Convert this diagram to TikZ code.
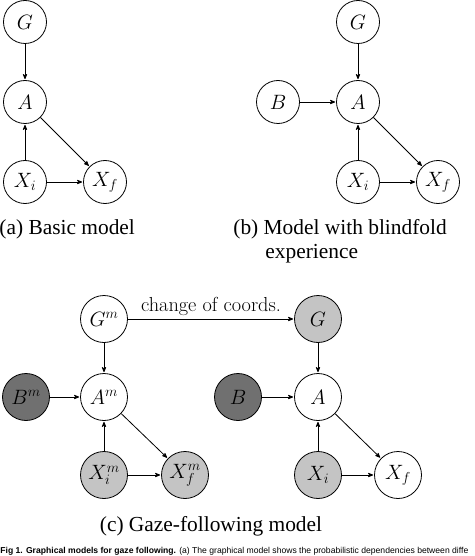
\documentclass[tikz,border=0pt]{standalone}
\usepackage{fontspec}
\newfontfamily\capfont{Liberation Serif}
\newfontfamily\notefont{Liberation Sans}
\usetikzlibrary{arrows,positioning}
\definecolor{lightgrey}{gray}{0.77}
\definecolor{darkgrey}{gray}{0.44}

\begin{document}
\begin{tikzpicture}[x=1pt, y=-1pt, var/.style={draw,circle,minimum size=43pt,inner sep=0pt}, obs/.style={fill=lightgrey}, hid/.style={fill=darkgrey}, >=stealth', shorten >=1pt, node distance=80pt, on grid, auto, line width=0.8pt, every node/.style={font=\fontsize{20.74}{24}\selectfont}, capt/.style={font=\capfont\fontsize{21.4}{24.5}\selectfont, inner sep=0pt, anchor=base west}]
  \useasboundingbox (0,0) rectangle (474,556);

  % States for the basic model
  \node[var] (Ga) at (25,22) {$G$};
  \node[var] (Aa) [below=of Ga] {$A$};
  \node[var] (Xia) [below=of Aa] {$X_i$};
  \node[var] (Xfa) [right=of Xia] {$X_f$};

  % Arrows for the basic model
  \path[->]
    (Ga) edge (Aa)
    (Xia) edge (Aa)
    (Aa) edge (Xfa)
    (Xia) edge (Xfa);
  \node[capt] (capa) at (-1,234) {(a) Basic model};

  % States for the blindfold model
  \node[var] (Gb) at (358,22) {$G$};
  \node[var] (Ab) [below=of Gb] {$A$};
  \node[var] (Bb) [left=of Ab] {$B$};
  \node[var] (Xib) [below=of Ab] {$X_i$};
  \node[var] (Xfb) [right=of Xib] {$X_f$};

  % Arrows for the blindfold model
  \path[->]
    (Gb) edge (Ab)
    (Bb) edge (Ab)
    (Xib) edge (Ab)
    (Ab) edge (Xfb)
    (Xib) edge (Xfb);
  \node[capt] (capb) at (233,234) {(b) Model with blindfold};
  \node[capt] (capbb) at (265,258) {experience};

  % States for the gaze-following model
  \begin{scope}[node distance=78pt, var/.append style={minimum size=47pt}]
    \node[var] (Gm) at (104,319) {$G^m$};
    \node[var] (Am) [below=of Gm] {$A^m$};
    \node[var, hid] (Bm) [left=of Am] {$B^m$};
    \node[var, obs] (Xim) [below=of Am] {$X_i^m$};
    \node[var, obs] (Xfm) [right=81pt of Xim] {$X_f^m$};

    \node[var, obs] (Gc) at (318,319) {$G$};
    \node[var] (Ac) [below=of Gc] {$A$};
    \node[var, hid] (Bc) [left=80pt of Ac] {$B$};
    \node[var, obs] (Xic) [below=of Ac] {$X_i$};
    \node[var] (Xfc) [right=80pt of Xic] {$X_f$};

    % Arrows for the gaze-following model
    \path[->]
      (Gm) edge (Am)
      (Bm) edge (Am)
      (Xim) edge (Am)
      (Am) edge (Xfm)
      (Xim) edge (Xfm)
      (Gm) edge node[inner sep=3pt, font=\fontsize{20.3}{24}\selectfont] {change of coords.} (Gc)
      (Gc) edge (Ac)
      (Bc) edge (Ac)
      (Xic) edge (Ac)
      (Ac) edge (Xfc)
      (Xic) edge (Xfc);
  \end{scope}
  \node[capt, anchor=base] (capc) at (211,531) {(c) Gaze-following model};

  \node[font=\notefont\fontsize{8.6}{9}\selectfont, inner sep=0pt, anchor=base west] (note) at (0,553) {\textbf{Fig 1. Graphical models for gaze following.} (a) The graphical model shows the probabilistic dependencies between diffe};
\end{tikzpicture}
\end{document}
